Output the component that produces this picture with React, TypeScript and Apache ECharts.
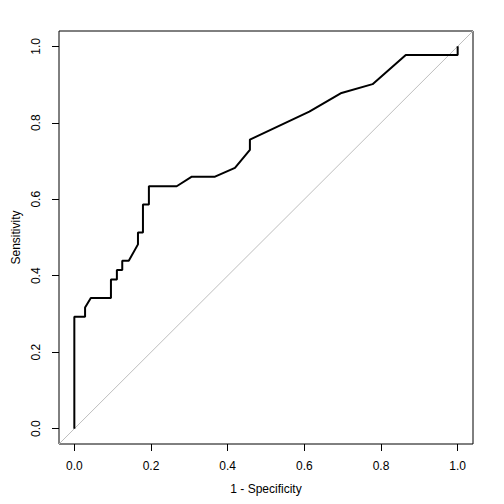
import { useEffect, useRef } from "react";
import * as echarts from "echarts";

// ROC curve points: 1 - specificity / sensitivity
const FPR = [
  0, 0, 0.028, 0.028, 0.043, 0.0955, 0.0955, 0.111, 0.111, 0.125, 0.125, 0.142, 0.166,
  0.166, 0.179, 0.179, 0.1945, 0.1945, 0.267, 0.3065, 0.367, 0.419, 0.458, 0.458, 0.613,
  0.697, 0.778, 0.8646, 1.0, 1.0,
];
const TPR = [
  0, 0.293, 0.293, 0.317, 0.342, 0.342, 0.39, 0.39, 0.415, 0.415, 0.439, 0.439, 0.482,
  0.513, 0.513, 0.586, 0.586, 0.634, 0.634, 0.659, 0.659, 0.682, 0.729, 0.756, 0.829,
  0.878, 0.901, 0.977, 0.977, 1.0,
];
const TICKS = [0, 0.2, 0.4, 0.6, 0.8, 1.0];
const DIAG = [-0.04, 1.04];

const FONT = "'Liberation Sans', Arial, sans-serif";
const INK = "#000000";

export default function App() {
  const ref = useRef<HTMLDivElement>(null);

  useEffect(() => {
    if (!ref.current) return;
    const chart = echarts.init(ref.current, null, { renderer: "svg" });

    const axisBase = {
      type: "value" as const,
      min: -0.04,
      max: 1.04,
      nameLocation: "middle" as const,
      nameTextStyle: { color: INK, fontSize: 12, fontFamily: FONT },
      axisLine: { show: false, onZero: false },
      axisTick: {
        show: true,
        inside: false,
        length: 7,
        customValues: TICKS,
        lineStyle: { color: INK, width: 1 },
      },
      axisLabel: {
        color: INK,
        fontSize: 12,
        fontFamily: FONT,
        customValues: TICKS,
        formatter: (v: number) => v.toFixed(1),
      },
      splitLine: { show: false },
    };

    chart.setOption({
      animation: false,
      textStyle: { fontFamily: FONT },
      grid: {
        left: 59,
        right: 31,
        top: 31,
        bottom: 60,
        show: true,
        borderColor: INK,
        borderWidth: 1,
        backgroundColor: "transparent",
      },
      xAxis: {
        ...axisBase,
        name: "1 - Specificity",
        nameGap: 39,
        axisLabel: { ...axisBase.axisLabel, margin: 16 },
      },
      yAxis: {
        ...axisBase,
        name: "Sensitivity",
        nameGap: 36,
        nameRotate: 90,
        axisLabel: { ...axisBase.axisLabel, margin: 17, rotate: 90 },
      },
      series: [
        {
          type: "line",
          data: DIAG.map((v) => [v, v]),
          showSymbol: false,
          silent: true,
          lineStyle: { color: "#bebebe", width: 1 },
        },
        {
          type: "line",
          data: FPR.map((x, i) => [x, TPR[i]]),
          showSymbol: false,
          silent: true,
          lineStyle: { color: INK, width: 2 },
        },
      ],
    });

    return () => chart.dispose();
  }, []);

  return (
    <div
      ref={ref}
      style={{ position: "absolute", left: 0, top: 0, width: 504, height: 504, background: "#fff" }}
    />
  );
}
